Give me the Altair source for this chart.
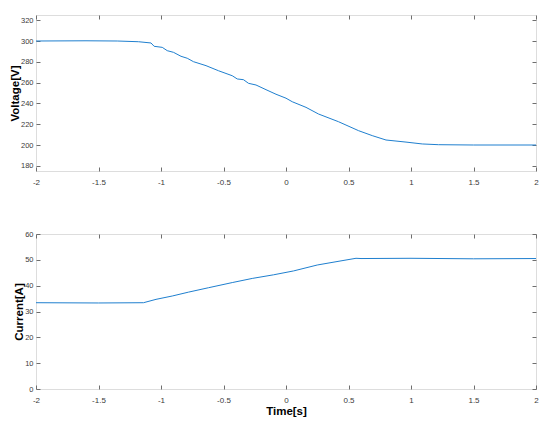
import altair as alt
import pandas as pd

# ---- data ----
time_v = [-2.0, -1.6, -1.35, -1.18, -1.08, -1.055, -0.99, -0.95, -0.9, -0.84,
          -0.79, -0.74, -0.64, -0.54, -0.43, -0.39, -0.34, -0.3, -0.24, -0.16,
          -0.08, 0.0, 0.05, 0.16, 0.26, 0.42, 0.58, 0.69, 0.8, 0.96,
          1.09, 1.22, 1.5, 2.0]
voltage = [300.0, 300.2, 300.0, 299.3, 298.1, 294.9, 293.9, 290.7, 289.1, 285.3,
           283.4, 280.1, 276.3, 271.4, 266.6, 263.5, 262.8, 259.3, 257.7, 253.2,
           248.8, 245.0, 241.6, 236.2, 229.8, 222.4, 213.8, 209.0, 204.8, 202.8,
           201.0, 200.3, 200.0, 200.0]

time_c = [-2.0, -1.5, -1.14, -1.04, -0.91, -0.78, -0.62, -0.43, -0.27, -0.1,
          0.06, 0.25, 0.44, 0.56, 0.6, 1.0, 1.5, 2.0]
current = [33.4, 33.3, 33.4, 34.7, 36.0, 37.5, 39.2, 41.2, 42.8, 44.2,
           45.7, 48.0, 49.6, 50.6, 50.5, 50.6, 50.4, 50.5]

x_ticks = [-2, -1.5, -1, -0.5, 0, 0.5, 1, 1.5, 2]
v_ticks = [180, 200, 220, 240, 260, 280, 300, 320]
c_ticks = [0, 10, 20, 30, 40, 50, 60]
x_domain = [-2, 2]
v_domain = [175, 325]
c_domain = [0, 60]

FONT = "Liberation Sans"
BLUE = "#1f7fcf"
BOX = "#8a8a8a"
TICK = "#6e6e6e"
LABEL = "#3a3a3a"


def panel(df, field, ydomain, yticks, ytitle, xtitle, height):
    base = alt.Chart(df)
    xscale = alt.Scale(domain=x_domain, nice=False, zero=False)
    yscale = alt.Scale(domain=ydomain, nice=False, zero=False)
    common = dict(offset=-4, tickSize=4, tickColor=TICK, domain=False, grid=False,
                  labelFont=FONT, labelColor=LABEL,
                  titleFont=FONT, titleFontSize=11.5, titleFontWeight="bold",
                  titleColor="#000000")
    xaxis_kwargs = dict(common, values=x_ticks, orient="bottom", labelPadding=7,
                        labelFontSize=8,
                        labelExpr="'' + datum.value", labelFlush=False, title=xtitle,
                        titlePadding=1)
    line = base.mark_line(color=BLUE, strokeWidth=1).encode(
        x=alt.X("t:Q", scale=xscale, axis=alt.Axis(**xaxis_kwargs)),
        y=alt.Y(f"{field}:Q", scale=yscale,
                axis=alt.Axis(**common, values=yticks, orient="left", labelPadding=3,
                              labelFontSize=7.5, title=ytitle, titlePadding=0)),
    )
    mirror = base.mark_line(opacity=0).encode(
        x=alt.X("t:Q", scale=xscale,
                axis=alt.Axis(offset=-4, tickSize=4, tickColor=TICK, domain=False,
                              grid=False, values=x_ticks, orient="top", labels=False,
                              title=None)),
        y=alt.Y(f"{field}:Q", scale=yscale,
                axis=alt.Axis(offset=-4, tickSize=4, tickColor=TICK, domain=False,
                              grid=False, values=yticks, orient="right", labels=False,
                              title=None)),
    )
    return (alt.layer(line, mirror)
            .resolve_axis(x="independent", y="independent")
            .properties(width=500, height=height))


df_v = pd.DataFrame({"t": time_v, "v": voltage})
df_c = pd.DataFrame({"t": time_c, "c": current})

top = panel(df_v, "v", v_domain, v_ticks, "Voltage[V]", None, 156)
bottom = panel(df_c, "c", c_domain, c_ticks, "Current[A]", "Time[s]", 155)

chart = (alt.vconcat(top, bottom, spacing=42)
         .properties(padding={"left": 0, "top": 6, "right": 0, "bottom": 2})
         .configure_view(stroke=BOX, strokeWidth=1)
         .configure(background="white"))

chart.save("out.html", embed_options={"renderer": "svg", "actions": False})
